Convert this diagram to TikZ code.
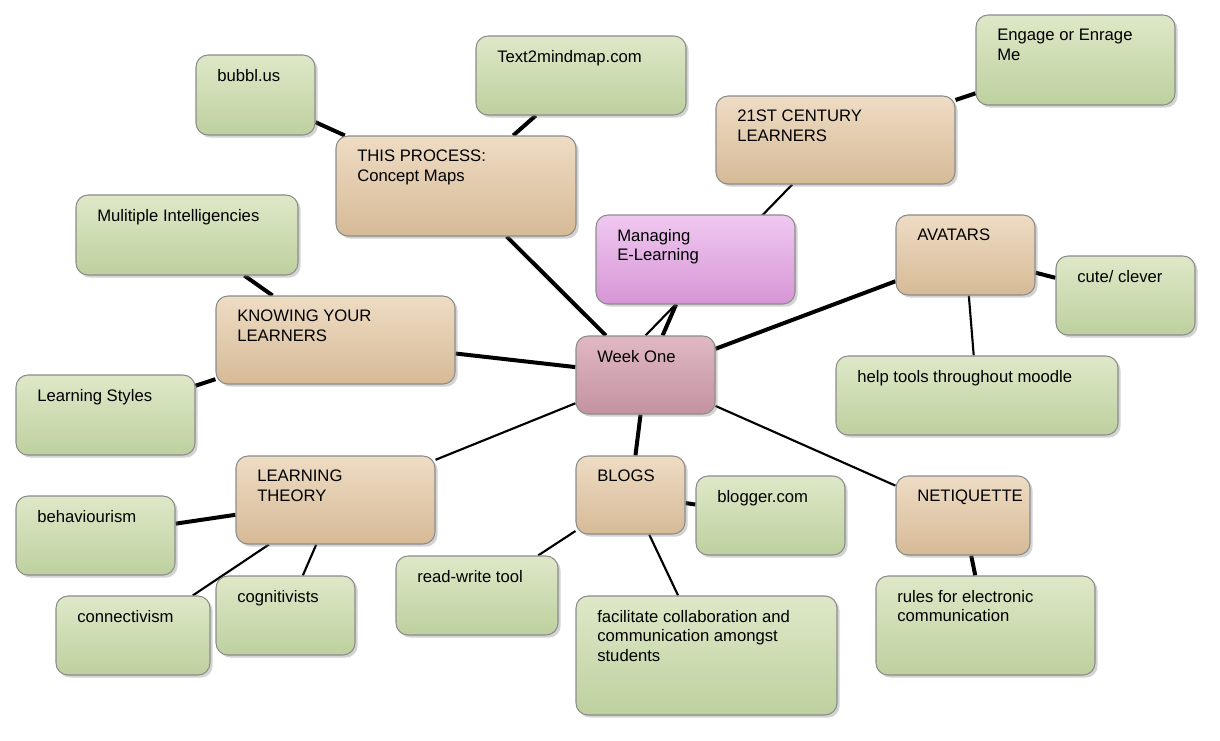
\documentclass[tikz,border=0pt]{standalone}
\usepackage{fontspec}
\setmainfont{Liberation Sans}
\usetikzlibrary{shadows}
\pgfdeclarelayer{bg}\pgfsetlayers{bg,main}
\definecolor{gT}{RGB}{222,232,200}\definecolor{gB}{RGB}{190,208,158}
\definecolor{tT}{RGB}{238,220,196}\definecolor{tB}{RGB}{214,186,150}
\definecolor{pT}{RGB}{240,200,240}\definecolor{pB}{RGB}{214,150,214}
\definecolor{wT}{RGB}{224,184,196}\definecolor{wB}{RGB}{196,146,160}
\tikzset{
 bx/.style={rounded corners=9pt, draw=black!45, line width=0.8pt, drop shadow={opacity=0.35,shadow xshift=2pt,shadow yshift=-2pt}},
 green/.style={bx, top color=gT, bottom color=gB},
 tan/.style={bx, top color=tT, bottom color=tB},
 pink/.style={bx, top color=pT, bottom color=pB},
 week/.style={bx, top color=wT, bottom color=wB},
 txt/.style={anchor=north west, align=left, inner sep=0pt, font=\fontsize{12.5pt}{14.5pt}\selectfont},
 ln/.style={line width=3pt}, tn/.style={line width=1.6pt}
}
\newcommand{\bxx}[7]{%
 \node[#6, minimum width={(#4-#2)*0.75pt}, minimum height={(#5-#3)*0.75pt}, inner sep=0pt] (#1) at ({(#2+#4)/2},{(#3+#5)/2}) {};
 \node[txt] (#1t) at ({#2+21},{#3+14}) {#7};}
\begin{document}
\begin{tikzpicture}[x=0.75pt,y=-0.75pt]
\useasboundingbox (0,0) rectangle (1220,740);
\bxx{bub}{196}{55}{315}{135}{green}{bubbl.us}
\bxx{t2m}{476}{36}{686}{115}{green}{Text2mindmap.com}
\bxx{eng}{976}{15}{1175}{105}{green}{Engage or Enrage\\Me}
\bxx{c21}{716}{96}{955}{184}{tan}{21ST CENTURY\\LEARNERS}
\bxx{proc}{336}{136}{576}{236}{tan}{THIS PROCESS:\\Concept Maps}
\bxx{man}{596}{215}{795}{304}{pink}{Managing\\E-Learning}
\bxx{ava}{896}{215}{1035}{295}{tan}{AVATARS}
\bxx{cute}{1056}{256}{1195}{335}{green}{cute/ clever}
\bxx{mul}{76}{195}{298}{275}{green}{Mulitiple Intelligencies}
\bxx{know}{216}{296}{455}{384}{tan}{KNOWING YOUR\\LEARNERS}
\bxx{week}{576}{336}{715}{414}{week}{Week One}
\bxx{help}{836}{356}{1118}{435}{green}{help tools throughout moodle}
\bxx{ls}{16}{375}{195}{455}{green}{Learning Styles}
\bxx{lt}{236}{456}{435}{544}{tan}{LEARNING\\THEORY}
\bxx{blog}{576}{456}{685}{534}{tan}{BLOGS}
\bxx{blgr}{696}{476}{845}{555}{green}{blogger.com}
\bxx{net}{896}{476}{1030}{555}{tan}{NETIQUETTE}
\bxx{beh}{16}{496}{175}{575}{green}{behaviourism}
\bxx{rw}{396}{556}{558}{635}{green}{read-write tool}
\bxx{cog}{216}{576}{355}{655}{green}{cognitivists}
\bxx{con}{56}{596}{210}{675}{green}{connectivism}
\bxx{fac}{576}{596}{837}{715}{green}{facilitate collaboration and\\communication amongst\\students}
\bxx{rul}{876}{576}{1095}{675}{green}{rules for electronic\\communication}
\begin{pgfonlayer}{bg}
\draw[ln] (week) -- (proc); \draw[ln] (week) -- (man); \draw[tn] (week.north) -- (c21);
\draw[ln] (week) -- (ava); \draw[ln] (week) -- (know); \draw[tn] (week) -- (lt);
\draw[ln] (week) -- (blog); \draw[tn] (week) -- (net);
\draw[ln] (proc) -- (bub); \draw[ln] (proc) -- (t2m);
\draw[ln] (c21) -- (eng);
\draw[ln] (ava) -- (cute); \draw[tn] (ava) -- (help);
\draw[ln] (know) -- (mul); \draw[ln] (know) -- (ls);
\draw[ln] (lt) -- (beh); \draw[tn] (lt) -- (con); \draw[tn] (lt) -- (cog);
\draw[ln] (blog) -- (blgr); \draw[tn] (blog) -- (rw); \draw[tn] (blog) -- (fac);
\draw[ln] (net) -- (rul);
\end{pgfonlayer}
\end{tikzpicture}
\end{document}
